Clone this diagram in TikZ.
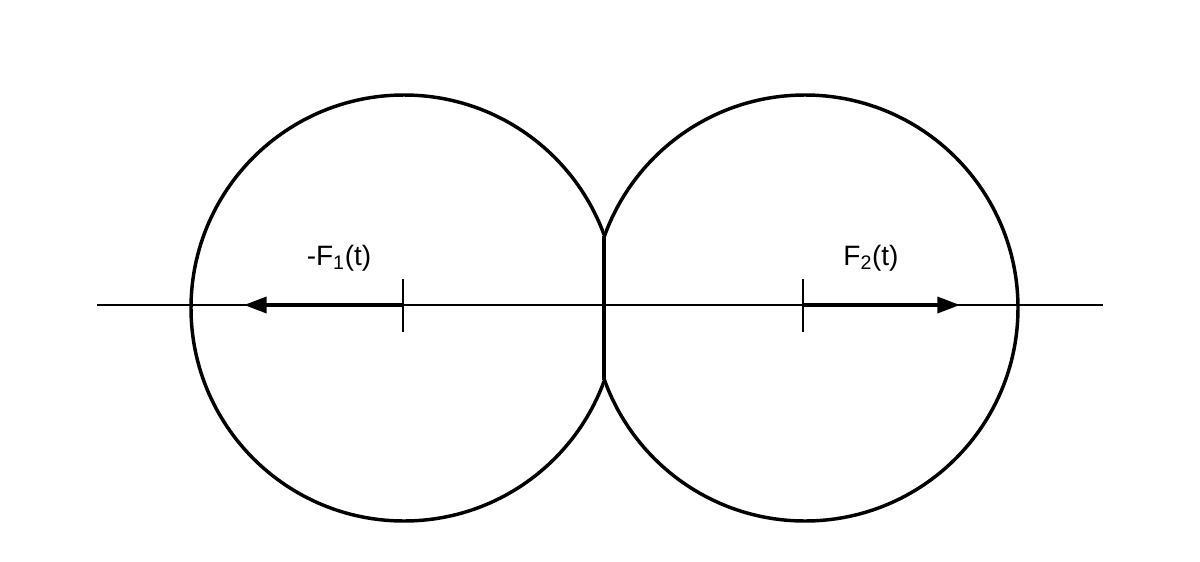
\documentclass[tikz,border=0pt]{standalone}
\usepackage{fontspec}
\setmainfont{Liberation Sans}
\usetikzlibrary{arrows.meta}
\begin{document}
\begin{tikzpicture}[x=0.75pt,y=-0.75pt,
  thin line/.style={line width=0.8pt},
  thick line/.style={line width=2.6pt},
  force/.style={line width=2.6pt,-{Triangle[length=17pt,width=12pt]}},
  lbl/.style={font=\fontsize{21}{24}\selectfont}]
\useasboundingbox (0,0) rectangle (1200,561);
\coordinate (c1) at (404,308);
\coordinate (c2) at (805,308);
\begin{scope}
\clip (0,0) rectangle (604,561);
\draw[thick line] (c1) circle[radius=213];
\end{scope}
\begin{scope}
\clip (604,0) rectangle (1200,561);
\draw[thick line] (c2) circle[radius=213];
\end{scope}
\coordinate (ct) at (604,236);
\coordinate (cb) at (604,380);
\draw[thick line] (ct) -- (cb);
\coordinate (la) at (97,305);
\coordinate (ra) at (1103,305);
\draw[thin line] (la) -- (ra);
% left tick
\coordinate (t1) at (403,305);
\draw[thin line] (403,279) -- (403,332);
\draw[thin line] (t1) -- (430,305);
\coordinate (a1) at (244,305);
\draw[force] (t1) -- (a1);
% right tick
\coordinate (t2) at (803,305);
\draw[thin line] (803,279) -- (803,332);
\draw[thin line] (776,305) -- (t2);
\coordinate (a2) at (960,305);
\draw[force] (t2) -- (a2);
\node[lbl] (l1) at (339,258) {-F$_{\mathrm{1}}$(t)};
\node[lbl] (l2) at (871,258) {F$_{\mathrm{2}}$(t)};
\end{tikzpicture}
\end{document}
